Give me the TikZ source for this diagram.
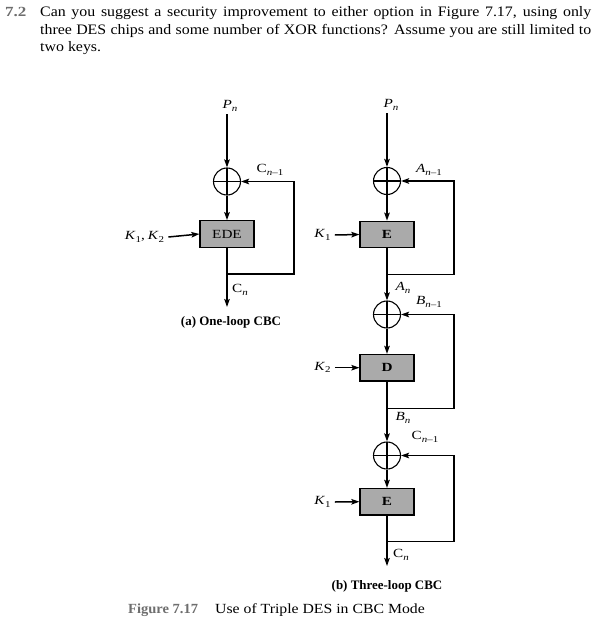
\documentclass[tikz,border=0pt]{standalone}
\usepackage{fontspec}
\setmainfont{Liberation Serif}
\usetikzlibrary{arrows.meta}
\definecolor{boxgray}{RGB}{170,170,170}
\definecolor{capgray}{RGB}{110,110,110}
\newcommand{\wx}[1]{\scalebox{1.22}[1]{#1}}
\newcommand{\lbl}[2]{\wx{\textit{#1}\raisebox{-0.4ex}{\fontsize{9}{10}\selectfont #2}}}
\newcommand{\clbl}[1]{\wx{C\raisebox{-0.4ex}{\fontsize{9}{10}\selectfont #1}}}
\begin{document}
\begin{tikzpicture}[x=1bp,y=-1bp,
  arr/.style={line width=1.5bp,-{Stealth[length=8bp,width=5.5bp,inset=1.5bp]}},
  xorc/.style={circle,draw,line width=1.1bp,minimum size=27bp,inner sep=0pt,
    path picture={\draw[line width=1.1bp] (path picture bounding box.north) -- (path picture bounding box.south)
      (path picture bounding box.west) -- (path picture bounding box.east);}},
  desbox/.style={draw,line width=1.2bp,fill=boxgray,minimum width=54bp,minimum height=26.5bp,inner sep=0pt,
    font=\fontsize{12.5}{14}\selectfont},
  lab/.style={inner sep=0pt,font=\fontsize{12.5}{14}\selectfont},
  sublab/.style={inner sep=0pt,font=\fontsize{13}{15}\selectfont\bfseries}
]
\useasboundingbox (0,0) rectangle (595,624);
% question text
\node[anchor=base west,inner sep=0pt,text=capgray,font=\fontsize{14}{17.5}\selectfont\bfseries] (num) at (5,17) {\wx{7.2}};
\node[anchor=base west,inner sep=0pt] (q) at (40,17) {\scalebox{1.1}[1]{\parbox[t]{501bp}{\fontsize{14.5}{17.5}\selectfont
Can you suggest a security improvement to either option in Figure 7.17, using only\linebreak
three DES chips and some number of XOR functions? Assume you are still limited to\linebreak
two keys.}}};
% ---------------- (a) one-loop
\node[lab] (pa) at (230,106) {\lbl{P}{\textit{n}}};
\node[xorc] (xa) at (227,181.5) {};
\node[desbox] (ede) at (227,234) {\wx{EDE}};
\node[lab] (ka) at (144.5,237) {\lbl{K}{1}\wx{,} \lbl{K}{2}};
\coordinate (ba) at (227,274);
\coordinate (fa) at (294,274);
\coordinate (ea) at (227,307);
\node[lab] (cna1) at (270,170) {\clbl{\textit{n}–1}};
\node[lab] (cna) at (240,290) {\clbl{\textit{n}}};
\draw[arr] (xa |- pa.south) ++(0,3) -- (xa.north);
\draw[arr] (xa.south) -- (ede.north);
\draw[arr] (ka.east) ++(4,0) -- (ede.west);
\draw[arr] (ede.south) -- (ea);
\draw[arr] (ba) -- (fa) |- (xa.east);
\node[sublab] (capa) at (231,322) {(a) One-loop CBC};
% ---------------- (b) three-loop
\node[lab] (pb) at (391,105) {\lbl{P}{\textit{n}}};
\node[xorc] (xb1) at (387,181) {};
\node[desbox,font=\fontsize{12.5}{14}\selectfont\bfseries] (e1) at (387,234.5) {\wx{E}};
\node[lab] (k1) at (322.5,235) {\lbl{K}{1}};
\coordinate (b1) at (387,274.3);
\coordinate (f1) at (454,274.3);
\node[xorc] (xb2) at (387,314.5) {};
\node[desbox,font=\fontsize{12.5}{14}\selectfont\bfseries] (d) at (387,367.7) {\wx{D}};
\node[lab] (k2) at (322.5,367.7) {\lbl{K}{2}};
\coordinate (b2) at (387,408.3);
\coordinate (f2) at (454,408.3);
\node[xorc] (xb3) at (387,455.5) {};
\node[desbox,font=\fontsize{12.5}{14}\selectfont\bfseries] (e3) at (387,501.7) {\wx{E}};
\node[lab] (k3) at (322.5,502) {\lbl{K}{1}};
\coordinate (b3) at (387,541.7);
\coordinate (f3) at (454,541.7);
\coordinate (eb) at (387,566);
\node[lab] (an1) at (429,170) {\lbl{A}{\textit{n}–1}};
\node[lab] (an) at (403,288) {\lbl{A}{\textit{n}}};
\node[lab] (bn1) at (429,302) {\lbl{B}{\textit{n}–1}};
\node[lab] (bn) at (403,418) {\lbl{B}{\textit{n}}};
\node[lab] (cn1) at (425,437) {\clbl{\textit{n}–1}};
\node[lab] (cn) at (401,555) {\clbl{\textit{n}}};
\draw[arr] (xb1 |- pb.south) ++(0,3) -- (xb1.north);
\draw[arr] (xb1.south) -- (e1.north);
\draw[arr] (k1.east) ++(4,0) -- (e1.west);
\draw[arr] (e1.south) -- (xb2.north);
\draw[arr] (b1) -- (f1) |- (xb1.east);
\draw[arr] (xb2.south) -- (d.north);
\draw[arr] (k2.east) ++(4,0) -- (d.west);
\draw[arr] (d.south) -- (xb3.north);
\draw[arr] (b2) -- (f2) |- (xb2.east);
\draw[arr] (xb3.south) -- (e3.north);
\draw[arr] (k3.east) ++(4,0) -- (e3.west);
\draw[arr] (e3.south) -- (eb);
\draw[arr] (b3) -- (f3) |- (xb3.east);
\node[sublab] (capb) at (387,586) {(b) Three-loop CBC};
% caption
\node[anchor=base west,inner sep=0pt,text=capgray,font=\fontsize{14}{16}\selectfont\bfseries] (fig) at (128,613) {\scalebox{1.04}[1]{Figure 7.17}};
\node[anchor=base west,inner sep=0pt,font=\fontsize{14}{16}\selectfont] (cap) at (215,613) {\scalebox{1.13}[1]{Use of Triple DES in CBC Mode}};
\end{tikzpicture}
\end{document}
